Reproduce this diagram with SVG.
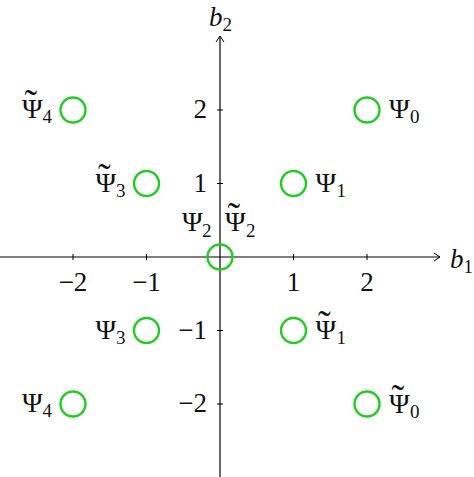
<svg xmlns="http://www.w3.org/2000/svg" width="474" height="477" viewBox="0 0 474 477">
<defs>
<marker id="arr" markerWidth="10" markerHeight="10" refX="8" refY="5" orient="auto" markerUnits="userSpaceOnUse">
<path d="M2,1 L8,5 L2,9" fill="none" stroke="#000" stroke-width="1"/>
</marker>
<style>
.ax{stroke:#000;stroke-width:1.2;fill:none}
.tk{stroke:#000;stroke-width:1}
.n{fill:none;stroke:#22cc22;stroke-width:2.4}
text{font-family:"Liberation Serif","Times New Roman",serif;font-size:27px;fill:#111}
.p{font-size:28px}
.s{font-size:19px}
.tl{font-size:38px}
.i{font-style:italic}
.m{text-anchor:middle}
.e{text-anchor:end}
</style>
</defs>
<rect width="474" height="477" fill="#fff"/>
<g id="connectors">
<line class="ax" x1="0" y1="257" x2="440" y2="257" marker-end="url(#arr)"/>
<line class="ax" x1="220" y1="477" x2="220" y2="36" marker-end="url(#arr)"/>
<path class="tk" d="M73,254v6M146.5,254v6M293.5,254v6M367,254v6M217,110h6M217,183.5h6M217,330.5h6M217,404h6"/>
</g>
<g id="axis-labels">
<text class="i" x="450" y="268">b<tspan class="s" dy="5" font-style="normal">1</tspan></text>
<text class="i" x="209" y="26">b<tspan class="s" dy="5" font-style="normal">2</tspan></text>
<text class="m" x="73" y="291">−2</text>
<text class="m" x="146.5" y="291">−1</text>
<text class="m" x="293.5" y="291">1</text>
<text class="m" x="367" y="291">2</text>
<text class="e" x="207" y="118">2</text>
<text class="e" x="207" y="192">1</text>
<text class="e" x="207" y="339">−1</text>
<text class="e" x="207" y="412">−2</text>
</g>
<g id="n-psi0"><circle class="n" cx="367" cy="110" r="12.5"/><text class="p" x="389" y="118">Ψ<tspan class="s" x="410" dy="5">0</tspan></text></g>
<g id="n-psi1"><circle class="n" cx="293.5" cy="183.5" r="12.5"/><text class="p" x="315.5" y="191.5">Ψ<tspan class="s" x="336.5" dy="5">1</tspan></text></g>
<g id="n-psi2"><circle class="n" cx="220" cy="257" r="12.5"/><text class="p" x="182" y="231">Ψ<tspan class="s" x="202" dy="6">2</tspan></text><text class="p" x="225" y="231">Ψ<tspan class="tl" x="227.5" dy="-2">˜</tspan><tspan class="s" x="246" dy="8">2</tspan></text></g>
<g id="n-psi3"><circle class="n" cx="146.5" cy="330.5" r="12.5"/><text class="p" x="95.5" y="338.5">Ψ<tspan class="s" x="116" dy="5">3</tspan></text></g>
<g id="n-psi4"><circle class="n" cx="73" cy="404" r="12.5"/><text class="p" x="22" y="412">Ψ<tspan class="s" x="42.5" dy="5">4</tspan></text></g>
<g id="n-psit1"><circle class="n" cx="293.5" cy="330.5" r="12.5"/><text class="p" x="315.5" y="338.5">Ψ<tspan class="tl" x="318" dy="-2">˜</tspan><tspan class="s" x="336.5" dy="7">1</tspan></text></g>
<g id="n-psit0"><circle class="n" cx="367" cy="404" r="12.5"/><text class="p" x="389" y="412.5">Ψ<tspan class="tl" x="391.5" dy="-2">˜</tspan><tspan class="s" x="410" dy="7">0</tspan></text></g>
<g id="n-psit3"><circle class="n" cx="146.5" cy="183.5" r="12.5"/><text class="p" x="95.5" y="191.5">Ψ<tspan class="tl" x="98" dy="-2">˜</tspan><tspan class="s" x="116" dy="7">3</tspan></text></g>
<g id="n-psit4"><circle class="n" cx="73" cy="110" r="12.5"/><text class="p" x="22" y="118">Ψ<tspan class="tl" x="24.5" dy="-2">˜</tspan><tspan class="s" x="42.5" dy="7">4</tspan></text></g>
</svg>
